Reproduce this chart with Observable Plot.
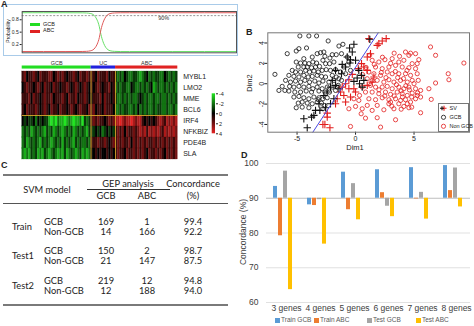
<!DOCTYPE html>
<html><head><meta charset="utf-8">
<script src="https://cdn.jsdelivr.net/npm/d3@7"></script>
<script src="https://cdn.jsdelivr.net/npm/@observablehq/plot@0.6"></script>
<style>
html,body{margin:0;padding:0;background:#fff;}
#root{position:relative;width:474px;height:326px;overflow:hidden;font-family:"Liberation Sans",Arial,sans-serif;color:#222;}
#root svg{position:absolute;overflow:visible;}
.t{position:absolute;white-space:pre;line-height:1;}
.plab{position:absolute;font-weight:bold;font-size:9px;line-height:1;font-family:"Liberation Sans",Arial,sans-serif;}
</style></head><body><div id="root"></div>
<script>
// ================= DATA =================
// Panel A – probability curves (sample position 0..100)
const probX   = [0,10,20,28,30,31,32,33,34,35,36,36.5,37,38,39,40,41,43,46,50,70,100];
const gcbProb = [0.97,0.97,0.97,0.968,0.965,0.96,0.95,0.93,0.88,0.79,0.63,0.5,0.39,0.23,0.13,0.075,0.05,0.035,0.03,0.03,0.03,0.03];
const abcProb = [0.03,0.03,0.03,0.032,0.035,0.04,0.05,0.07,0.12,0.21,0.37,0.5,0.61,0.77,0.87,0.925,0.95,0.965,0.97,0.97,0.97,0.97];
const probTicks = [0.2,0.5,0.8];
const cutoff = 0.9;

// Panel A – heatmap (digit d -> value d-4)
const genes = ["MYBL1","LMO2","MME","BCL6","IRF4","NFKBIZ","PDE4B","SLA"];
const groupNames = ["GCB","UC","ABC"];
const heatGCB = [
 "5645565465"+"5566456565"+"4556546556"+"5",
 "4565545654"+"6554655455"+"6545654565"+"4",
 "5556465545"+"6556455565"+"4655645565"+"4",
 "5465556545"+"6546554655"+"4565456554"+"6",
 "4343342434"+"3310102110"+"1210112032"+"3",
 "2323123232"+"1323123212"+"3231232321"+"3",
 "2312323213"+"2321232313"+"2321323223"+"2",
 "2121323121"+"3212321213"+"1232123121"+"2"];
const heatUC = [
 "5546555645"+"5","5456545564"+"5","4555646554"+"5","5645546555"+"4",
 "5656554565"+"6","3343423434"+"3","5556556545"+"6","4454544545"+"4"];
const heatABC = [
 "3232432233"+"2123423233"+"22432323",
 "2323322432"+"2323234123"+"22323232",
 "3223232322"+"3432322322"+"32232323",
 "2232332232"+"4232322323"+"32232232",
 "7787677876"+"7754545456"+"76576767",
 "5656465565"+"6767576767"+"65767676",
 "5656556465"+"6565655656"+"56565656",
 "5655465565"+"6565465565"+"65465656"];
const heatLegendTicks = [-4,-2,0,2,4];

// Panel B – scatter (Dim1, Dim2)
const gcbPts = [[-4.76,4.69],[-3.99,4.69],[-3.33,4.69],[-5.84,2.95],[-5.07,3.21],[-4.84,3.44],[-4.19,3.51],[-2.34,4.20],[-1.42,3.70],[-1.08,3.87],[-2.99,3.05],[-1.99,2.85],[-1.65,2.85],[-1.20,2.95],
[-5.07,2.13],[-4.70,2.03],[-4.33,2.03],[-3.99,1.97],[-3.65,2.13],[-3.33,2.03],[-4.90,1.64],[-4.42,1.64],[-4.13,1.64],[-3.76,1.57],[-3.42,1.64],[-3.08,1.70],[-2.79,2.30],[-2.56,1.97],[-2.22,1.97],[-1.85,2.13],
[-5.41,1.31],[-5.13,1.15],[-4.70,1.15],[-4.27,1.31],[-3.93,1.15],[-3.56,1.25],[-3.19,1.15],[-2.85,1.31],[-2.51,1.38],[-2.14,1.31],[-1.71,1.38],[-1.28,1.15],[-1.00,1.64],
[-5.70,0.82],[-5.27,0.72],[-4.84,0.66],[-4.42,0.82],[-4.05,0.66],[-3.70,0.72],[-3.28,0.82],[-2.91,0.72],[-2.56,0.66],[-1.99,0.82],[-1.65,0.66],
[-5.98,0.33],[-5.56,0.16],[-5.13,0.26],[-4.70,0.16],[-4.33,0.33],[-3.93,0.16],[-3.48,0.26],[-3.13,0.07],[-2.79,0.26],[-2.28,0.16],[-1.85,0.33],[-1.42,0.49],
[-6.89,0.92],[-6.27,-0.26],[-6.04,-0.66],[-5.64,-0.26],[-5.27,-0.33],[-4.84,-0.26],[-4.42,-0.33],[-3.99,-0.26],[-3.65,-0.49],[-3.28,-0.33],[-2.85,-0.49],[-2.42,-0.33],[-1.99,-0.33],[-1.71,-0.66],
[-6.55,-0.66],[-5.70,-0.72],[-5.19,-0.82],[-4.70,-0.82],[-4.22,-0.72],[-3.76,-0.82],[-3.13,-0.72],[-2.62,-0.82],[-2.22,-0.82],
[-5.27,-1.31],[-4.84,-1.25],[-4.42,-1.38],[-3.99,-1.48],[-3.56,-1.31],[-3.13,-1.38],[-2.79,-1.48],[-2.42,-1.38],
[-4.90,-1.90],[-4.56,-1.80],[-4.13,-1.90],[-3.70,-1.97],[-3.28,-1.80],[-2.91,-1.90],[-2.62,-2.13],
[-5.07,-2.36],[-4.56,-2.30],[-3.99,-2.36],[-2.79,-2.46],[-3.19,-1.57],
[-0.57,2.13],[-0.71,2.62],[-0.43,1.31],[-0.85,0.98],[-1.20,0.33],[-1.48,-0.16],
[-3.70,2.62],[-3.28,2.95],[-2.71,3.11],[-4.42,2.46],[-2.62,2.69],[-2.19,2.52]];
const nonGcbPts = [[6.41,3.61],[6.84,2.79],[9.26,2.03],[7.92,0.98],[7.98,0.39],[6.84,0.07],[6.27,-0.49],[5.56,-1.31],[6.47,-1.54],[5.56,-2.85],[3.42,-3.54],[1.85,-3.34],[2.14,-4.26],[-0.43,-4.20],[0.48,-2.95],[0.85,-3.38],[0.57,-2.46],[2.85,-1.97],[1.42,-2.62],[2.42,-2.56],
[4.27,3.11],[5.13,2.95],[5.41,2.36],[4.56,2.79],[3.76,2.69],[3.13,2.46],[2.51,2.36],[1.99,2.13],[1.42,2.30],[3.70,2.13],[4.13,2.30],[4.84,1.97],[5.27,1.97],
[1.71,1.64],[2.28,1.48],[2.85,1.64],[3.42,1.80],[3.99,1.64],[4.56,1.57],[5.13,1.48],
[1.14,1.15],[1.57,0.98],[2.14,0.82],[2.71,1.15],[3.13,0.98],[3.70,0.98],[4.27,0.98],[4.70,0.82],[5.27,0.98],
[1.00,0.49],[1.42,0.33],[1.85,0.33],[2.42,0.16],[2.85,0.39],[3.28,0.16],[3.85,0.33],[4.42,0.16],[4.84,0.33],[5.36,0.33],
[1.28,-0.16],[1.71,-0.33],[2.28,-0.33],[2.71,-0.26],[3.13,-0.49],[3.70,-0.33],[4.13,-0.49],[4.56,-0.33],[5.13,-0.49],[5.56,-0.66],
[0.85,-0.82],[1.42,-0.82],[1.99,-0.98],[2.56,-0.82],[2.99,-1.05],[3.56,-0.82],[3.99,-0.98],[4.42,-1.15],[4.84,-0.92],[5.27,-1.15],
[1.14,-1.48],[1.71,-1.57],[2.28,-1.38],[2.85,-1.57],[3.42,-1.48],[3.85,-1.64],[4.27,-1.57],[4.70,-1.80],[5.13,-1.48],
[1.00,-2.13],[1.85,-2.13],[2.99,-1.80],[3.70,-1.97],[4.13,-2.23],[4.56,-2.36],[4.42,-1.97],
[0,-2.23],[-0.57,-2.46],[0.28,-1.64],[0.34,-1.15],[-0.14,-1.48],[0.57,-0.33],[3.28,-2.46],
[3.5,-0.1],[3.9,-0.7],[4.3,-0.2],[4.6,-0.6],[3.3,-1.2],[4.0,-1.3],[4.8,-1.3],[3.6,0.6],[4.1,0.5],[2.6,0.6],[2.0,-0.6],[2.5,-1.2],[3.1,-2.2],[3.9,-2.5],[4.8,-2.3],[5.3,-0.9],[5.0,0.0],[2.2,1.1],[1.6,1.9],[3.0,2.0],[3.4,1.2],[4.4,1.3],[2.3,2.6],[3.3,3.0],[4.7,3.0],[0.6,0.9],[0.9,1.6],[1.2,2.8]];
const svGcbPts = [[-0.14,3.87],[-0.51,3.51],[-0.28,3.11],[-0.71,2.62],[-0.43,2.36],[-1.14,1.90],[-0.85,1.64],[-1.71,1.31],[-1.20,0.98],[-0.48,2.03],[0,2.30],[0.28,1.31],[0.51,0.82],[0.71,0.33],[0.34,0],[-0.14,0.23],[-1.71,-0.16],[-2.14,-0.33],[-1.42,-0.49],[-2.42,-0.82],[-2.71,-1.15],[-3.13,-1.97],[-3.42,-2.62],[-4.42,-3.44],[-4.13,-4.33],[-3.56,-3.11],[-3.76,-3.28],[-1.85,-1.48],[-2.14,-1.97],[0.57,-0.33],[0.14,0.56],[-1.99,0.33],[-2.56,-2.36],[-3.05,-2.62],[1.22,4.36]];
const svNonGcbPts = [[1.14,4.43],[1.99,3.93],[1.85,3.77],[2.28,4.20],[2.62,4.43],[1.28,2.95],[1.00,2.62],[0.51,1.97],[0.71,1.64],[0.23,1.48],[-0.28,0.92],[-0.57,0.39],[-0.85,0],[-1.14,-0.33],[-1.28,-0.82],[-1.00,-1.15],[-0.57,-0.49],[-0.14,-0.49],[-1.57,-1.48],[-1.71,-1.97],[-2.42,-2.89],[-2.42,-3.28],[-2.79,-4.00],[-2.19,-4.33],[-2.62,-4.00],[1.00,-0.16],[1.42,0.16],[0,-0.82],[-0.43,-1.31],[-0.85,-1.80],[1.00,1.31],[1.57,0.66]];
const svmLineX = [-3.65, 1.94];
const svmLineY = [-4.76, 5.0];
const dimTicksX = [-5,0,5];
const dimTicksY = [-4,-2,0,2,4];

// Panel C – table
const svmGroups = ["Train","Test1","Test2"];
const subtypes = ["GCB","Non-GCB"];
const gepGCB = [169,14,150,21,219,12];
const gepABC = [1,166,2,147,12,188];
const concordance = ["99.4","92.2","98.7","87.5","94.8","94.0"];

// Panel D – bars
const geneSets = ["3 genes","4 genes","5 genes","6 genes","7 genes","8 genes"];
const seriesNames = ["Train GCB","Train ABC","Test GCB","Test ABC"];
const trainGCB = [93.4,88.1,97.5,98.2,98.8,99.4];
const trainABC = [79.2,87.9,86.7,91.6,89.8,92.2];
const testGCB  = [97.8,89.6,94.2,87.7,91.7,98.7];
const testABC  = [63.7,76.8,83.8,84.7,84.0,87.5];
const concTicks = [60,70,80,90,100];

// ================= STYLE =================
const seriesColors = ["#5B9BD5","#ED7D31","#A5A5A5","#FFC000"];
const groupColors = ["#22dd22","#2222dd","#e02222"];
const root = document.getElementById("root");
function place(el, left, top){ el.style.left = left+"px"; el.style.top = top+"px"; root.appendChild(el); return el; }
function txt(s, x, y, opts={}){
  const d = document.createElement("div"); d.className="t"; d.textContent=s;
  const a = opts.anchor||"middle";
  d.style.fontSize=(opts.size||10)+"px";
  if(opts.font) d.style.fontFamily=opts.font;
  if(opts.color) d.style.color=opts.color;
  let tr = a==="middle"?"translate(-50%,-50%)":a==="start"?"translate(0,-50%)":"translate(-100%,-50%)";
  if(opts.rotate) tr += " rotate(-90deg)";
  d.style.transform = tr;
  return place(d,x,y);
}
function box(x,y,w,h,css){ const d=document.createElement("div"); d.style.position="absolute"; d.style.width=w+"px"; d.style.height=h+"px"; Object.assign(d.style,css); return place(d,x,y); }
const baseStyle = {fontFamily:"Liberation Sans, Arial, sans-serif", background:"transparent", color:"#222"};

// ================= PANEL A: probability =================
box(3,4,235,52,{border:"1px solid #a9cbe9", boxSizing:"border-box"});
const probA = Plot.plot({
  width:240, height:58, marginLeft:21.7, marginRight:4, marginTop:11, marginBottom:5.7,
  style:{...baseStyle, fontSize:"5px"},
  x:{domain:[0,100], axis:null},
  y:{domain:[0,1], ticks:probTicks, tickSize:2, tickPadding:1.5, tickFormat:d=>d.toFixed(1), label:null},
  marks:[
    Plot.ruleY([cutoff],{stroke:"#666", strokeDasharray:"2,1.5", strokeWidth:0.7}),
    Plot.line(probX.map((x,i)=>({x, p:gcbProb[i]})),{x:"x", y:"p", stroke:"#66e066", strokeWidth:1, curve:"monotone-x"}),
    Plot.line(probX.map((x,i)=>({x, p:abcProb[i]})),{x:"x", y:"p", stroke:"#e05a5a", strokeWidth:1, curve:"monotone-x"}),
    Plot.text(["90%"],{x:()=>66, y:()=>0.83, text:d=>d, fontSize:5.5, fill:"#333"}),
    Plot.frame({stroke:"#555", strokeWidth:1})
  ]
});
place(probA,0,0);
txt("Probability",7.5,31,{size:5,rotate:true});
box(30,23,10,3,{background:groupColors[0]});
box(30,29.7,10,3,{background:groupColors[2]});
txt("GCB",43,24.7,{anchor:"start",size:5.5});
txt("ABC",43,31.2,{anchor:"start",size:5.5});

// ================= PANEL A: heatmap =================
const nG = heatGCB[0].length, nU = heatUC[0].length, nA = heatABC[0].length, nTot = nG+nU+nA;
const cells = [];
genes.forEach((g,r)=>{
  const s = heatGCB[r]+heatUC[r]+heatABC[r];
  for(let c=0;c<s.length;c++) cells.push({row:r, col:c, v:+s[c]-4});
});
const groupSpans = [[0,nG],[nG,nG+nU],[nG+nU,nTot]];
const heat = Plot.plot({
  width:240, height:108, marginLeft:21.7, marginRight:62.7, marginTop:16, marginBottom:4,
  style:{...baseStyle, fontSize:"6px"},
  x:{domain:[0,nTot], axis:null},
  y:{domain:[0,8], reverse:true, axis:null},
  color:{type:"linear", domain:[-4,0,4], range:["#22e622","#000000","#e62222"], clamp:true},
  marks:[
    Plot.rect(cells,{x1:"col", x2:d=>d.col+1, y1:"row", y2:d=>d.row+1, fill:"v", stroke:"v", strokeWidth:0.25}),
    Plot.ruleX([nG, nG+nU],{y1:0, y2:8, stroke:"#d8a62a", strokeWidth:0.9}),
    Plot.ruleY([4],{x1:0, x2:nTot, stroke:"#d8a62a", strokeWidth:0.9}),
    ...groupNames.map((g,i)=>Plot.rect([g],{x1:()=>groupSpans[i][0], x2:()=>groupSpans[i][1], y1:()=>-0.5, y2:()=>-0.22, fill:groupColors[i]})),
    Plot.text(groupNames,{x:(d,i)=>(groupSpans[i][0]+groupSpans[i][1])/2, y:()=>-0.78, text:d=>d, fontSize:5.5, fill:"#333"}),
    Plot.text(genes,{x:()=>nTot, y:(d,i)=>i+0.5, dx:5.4, text:d=>d, textAnchor:"start", fontSize:7, fill:"#222"})
  ]
});
place(heat,0,55);

// color legend
const leg = Plot.plot({
  width:30, height:50, marginLeft:11.7, marginRight:15, marginTop:5.3, marginBottom:4.7,
  style:{...baseStyle, fontSize:"5.5px"},
  x:{domain:[0,1], axis:null},
  y:{domain:[-4,4], reverse:true, axis:"right", ticks:heatLegendTicks, tickSize:2, tickPadding:1.5, tickFormat:d=>String(d), label:null},
  marks:[ Plot.rect([0],{x1:()=>0, x2:()=>1, y1:()=>-4, y2:()=>4, fill:"url(#hmgrad)"}) ]
});
const defs = d3.select(leg).insert("defs",":first-child");
const grad = defs.append("linearGradient").attr("id","hmgrad").attr("x1",0).attr("y1",0).attr("x2",0).attr("y2",1);
[["0%","#22e622"],["50%","#000000"],["100%","#e62222"]].forEach(([o,c])=>grad.append("stop").attr("offset",o).attr("stop-color",c));
place(leg,200,88);

// ================= PANEL B: scatter =================
const toObj = a=>a.map(([x,y])=>({x,y}));
const scat = Plot.plot({
  width:239, height:135, marginLeft:32.3, marginRight:5, marginTop:12.3, marginBottom:23.3,
  style:{...baseStyle, fontSize:"7px"},
  x:{domain:[-7.5,9.74], ticks:dimTicksX, tickSize:3, tickPadding:1, tickFormat:d=>String(d), label:null},
  y:{domain:[-4.76,5.0], ticks:dimTicksY, tickSize:3, tickPadding:1, tickRotate:-90, tickFormat:d=>String(d), label:null},
  marks:[
    Plot.dot(toObj(gcbPts),{x:"x", y:"y", r:2.1, stroke:"#111", strokeWidth:0.8, fill:"none"}),
    Plot.dot(toObj(nonGcbPts),{x:"x", y:"y", r:2.1, stroke:"#e21d1d", strokeWidth:0.8, fill:"none"}),
    Plot.dot(toObj(svNonGcbPts),{x:"x", y:"y", r:2.5, symbol:"plus", stroke:"#e21d1d", strokeWidth:1.1}),
    Plot.dot(toObj(svGcbPts),{x:"x", y:"y", r:2.5, symbol:"plus", stroke:"#111", strokeWidth:1.1}),
    Plot.line(svmLineX.map((x,i)=>({x, y:svmLineY[i]})),{x:"x", y:"y", stroke:"#4b4be0", strokeWidth:1}),
    Plot.frame({stroke:"#777", strokeWidth:1})
  ]
});
place(scat,235,20);
txt("Dim1",355,147.5,{size:7.5});
txt("Dim2",249.5,83,{size:7.5,rotate:true});
const lb = box(437.5,103,31,29,{border:"0.8px solid #777", background:"#fff", boxSizing:"border-box"});
lb.innerHTML = `<svg width="31" height="29" style="position:absolute;left:-1px;top:-1px">
<g stroke-width="1.1"><path d="M3.5,5.3h5M6,2.8v5" stroke="#e21d1d"/><path d="M2,5.3h4M4,3.3v4" stroke="#111"/></g>
<circle cx="5.5" cy="14.3" r="2.1" fill="none" stroke="#111" stroke-width="0.8"/>
<circle cx="5.5" cy="23.3" r="2.1" fill="none" stroke="#e21d1d" stroke-width="0.8"/></svg>`;
txt("SV",449.5,108.5,{anchor:"start",size:5.5});
txt("GCB",449.5,117.5,{anchor:"start",size:5.5});
txt("Non GCB",449.5,126.5,{anchor:"start",size:5.5});

// ================= PANEL C: table =================
const tf = "Lato, 'Open Sans', sans-serif";
const fs = 9.3;
box(3,174,225,2,{background:"#7a7a7a"});
box(3,203,225,1.2,{background:"#555"});
box(3,304,225,2,{background:"#7a7a7a"});
box(87,189,83,1,{background:"#333"});
txt("SVM model",47,190,{size:fs,font:tf});
txt("GEP analysis",128,183.5,{size:fs,font:tf});
txt("Concordance",193,183.5,{size:fs,font:tf});
txt("GCB",106,196,{size:fs,font:tf});
txt("ABC",147,196,{size:fs,font:tf});
txt("(%)",193,196,{size:fs,font:tf});
svmGroups.forEach((g,gi)=>{
  const y0 = 221.7 + gi*29.5;
  txt(g,12,y0+5,{anchor:"start",size:fs,font:tf});
  subtypes.forEach((s,si)=>{
    const k = gi*2+si, y = y0+si*10;
    txt(s,44,y,{anchor:"start",size:fs,font:tf});
    txt(String(gepGCB[k]),106,y,{size:fs,font:tf});
    txt(String(gepABC[k]),147,y,{size:fs,font:tf});
    txt(concordance[k],193,y,{size:fs,font:tf});
  });
});

// ================= PANEL D: bars =================
const barData = [];
geneSets.forEach((g,i)=>{
  [trainGCB,trainABC,testGCB,testABC].forEach((arr,j)=>barData.push({gene:g, series:seriesNames[j], value:arr[i]}));
});
const bars = Plot.plot({
  width:239, height:160, marginLeft:30, marginRight:4, marginTop:8, marginBottom:13,
  style:{...baseStyle, fontSize:"8.5px", color:"#404040"},
  facet:{data:barData, x:"gene"},
  fx:{domain:geneSets, padding:0, axis:"bottom", tickSize:0, tickPadding:2, label:null},
  x:{domain:seriesNames, axis:null, paddingInner:0.13, paddingOuter:0.9},
  y:{domain:[60,100], ticks:concTicks, tickSize:0, tickPadding:8, label:null},
  color:{domain:seriesNames, range:seriesColors},
  marks:[
    Plot.ruleY([60,70,80,100],{stroke:"#d9d9d9", strokeWidth:0.8}),
    Plot.ruleY([90],{stroke:"#bfbfbf", strokeWidth:1}),
    Plot.barY(barData,{x:"series", y1:90, y2:"value", fill:"series"})
  ]
});
d3.select(bars).selectAll('g[aria-label="fx-axis tick label"] text, g[aria-label="fx-axis"] text').attr("dx", 3);
place(bars,235,155);
txt("Concordance (%)",243,232,{size:8.5,rotate:true,color:"#404040"});
const legLeft = [275,314,367,416];
seriesNames.forEach((s,i)=>{
  box(legLeft[i],318,4.5,4.5,{background:seriesColors[i]});
  txt(s,legLeft[i]+6,320.3,{anchor:"start",size:6.5,color:"#595959"});
});

// ================= panel letters =================
[["A",1,0],["B",246,28],["C",1,161],["D",241,151]].forEach(([l,x,y])=>{
  const d=document.createElement("div"); d.className="plab"; d.textContent=l; place(d,x,y);
});
</script></body></html>
